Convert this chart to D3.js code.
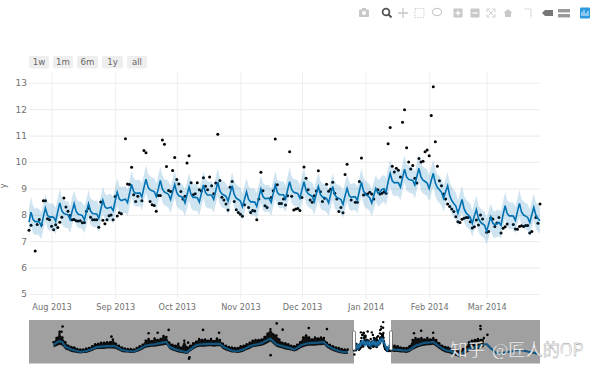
<!DOCTYPE html>
<html>
<head>
<meta charset="utf-8">
<script src="https://cdn.jsdelivr.net/npm/d3@7/dist/d3.min.js"></script>
<style>
  html, body { margin: 0; padding: 0; background: #fff; }
  svg { display: block; }
  text { font-family: "DejaVu Sans", sans-serif; }
</style>
</head>
<body>
<div class="content"></div>
<script>
// daily values, first day is 2013-07-21
var firstDay = '2013-07-21';
var yhat = [7.72,
  8.10,7.82,7.74,7.74,7.73,7.58,7.93, 8.25,7.98,7.91,7.92,7.91,7.76,8.12, 8.45,8.15,8.05,8.02,8.00,7.82,8.13,
  8.42,8.12,8.02,8.00,7.97,7.80,8.12, 8.42,8.14,8.05,8.04,8.03,7.87,8.21, 8.55,8.30,8.24,8.27,8.29,8.16,8.53,
  8.85,8.60,8.54,8.57,8.59,8.46,8.81, 9.15,8.88,8.81,8.82,8.83,8.68,9.03, 9.35,9.05,8.94,8.91,8.88,8.69,8.98,
  9.30,8.98,8.86,8.82,8.77,8.58,8.87, 9.15,8.84,8.72,8.69,8.65,8.45,8.76, 9.05,8.76,8.66,8.66,8.65,8.48,8.81,
  9.13,8.84,8.75,8.75,8.74,8.58,8.91, 9.23,8.91,8.79,8.75,8.70,8.51,8.81, 9.10,8.77,8.63,8.58,8.52,8.31,8.59,
  8.87,8.58,8.49,8.49,8.48,8.32,8.66, 8.97,8.69,8.61,8.62,8.62,8.47,8.81, 9.13,8.85,8.76,8.76,8.76,8.60,8.94,
  9.25,8.95,8.85,8.83,8.80,8.63,8.95, 9.25,8.92,8.80,8.75,8.70,8.50,8.79, 9.07,8.77,8.67,8.65,8.62,8.45,8.77,
  9.07,8.76,8.65,8.62,8.58,8.39,8.71, 9.00,8.73,8.66,8.68,8.68,8.55,8.91, 9.23,8.90,8.77,8.72,8.65,8.45,8.72,
  9.00,8.82,8.87,8.96,8.99,8.86,9.25, 9.57,9.29,9.21,9.22,9.21,9.05,9.40, 9.73,9.43,9.34,9.32,9.30,9.13,9.45,
  9.76,9.43,9.31,9.26,9.20,9.00,9.30, 9.57,9.20,9.03,8.95,8.85,8.62,8.87, 9.10,8.73,8.54,8.43,8.33,8.06,8.31,
  8.58,8.23,8.07,7.99,7.91,7.67,7.95, 8.20,7.86,7.72,7.66,7.60,7.38,7.65, 7.92,7.68,7.62,7.66,7.71,7.60,8.00,
  8.34,8.05,7.96,7.96,7.95,7.79,8.12, 8.43,8.11,7.99,7.95,7.90,7.71,8.00, 8.28,7.98,7.86,7.78];
var upper = [8.25,
  8.68,8.32,8.24,8.26,8.22,8.10,8.45, 8.78,8.50,8.42,8.44,8.40,8.27,8.62, 8.98,8.65,8.57,8.50,8.52,8.30,8.65,
  8.92,8.63,8.50,8.52,8.46,8.33,8.60, 8.95,8.62,8.57,8.52,8.55,8.36,8.73, 9.06,8.82,8.72,8.80,8.78,8.68,9.05,
  9.38,9.10,9.05,9.07,9.10,8.95,9.33, 9.66,9.40,9.30,9.34,9.32,9.20,9.52, 9.88,9.55,9.47,9.40,9.40,9.18,9.50,
  9.82,9.50,9.35,9.33,9.28,9.10,9.36, 9.67,9.33,9.24,9.20,9.14,8.97,9.26, 9.57,9.28,9.15,9.18,9.14,9.00,9.30,
  9.66,9.35,9.26,9.24,9.26,9.07,9.43, 9.75,9.42,9.30,9.27,9.20,9.03,9.30, 9.62,9.27,9.15,9.08,9.04,8.80,9.10,
  9.38,9.10,8.98,9.01,8.97,8.84,9.15, 9.50,9.20,9.12,9.13,9.12,9.00,9.32, 9.65,9.35,9.28,9.25,9.28,9.10,9.46,
  9.80,9.47,9.35,9.35,9.30,9.15,9.45, 9.76,9.42,9.32,9.25,9.22,9.00,9.30, 9.60,9.28,9.18,9.16,9.12,8.97,9.27,
  9.58,9.27,9.15,9.14,9.08,8.90,9.22, 9.50,9.25,9.15,9.20,9.18,9.06,9.42, 9.75,9.40,9.30,9.22,9.17,8.95,9.23,
  9.52,9.33,9.37,9.48,9.50,9.37,9.75, 10.08,9.80,9.72,9.72,9.73,9.55,9.92, 10.25,9.93,9.86,9.82,9.82,9.63,9.95,
  10.28,9.93,9.83,9.76,9.72,9.50,9.82, 10.08,9.72,9.53,9.47,9.35,9.14,9.37, 9.62,9.23,9.06,8.93,8.85,8.55,8.83,
  9.10,8.73,8.58,8.49,8.43,8.17,8.47, 8.72,8.36,8.24,8.16,8.12,7.88,8.17, 8.42,8.20,8.12,8.18,8.20,8.12,8.50,
  8.86,8.55,8.48,8.46,8.47,8.29,8.62, 8.95,8.60,8.51,8.45,8.42,8.20,8.52, 8.80,8.48,8.38,8.28];
var lower = [7.20,
  7.60,7.30,7.22,7.26,7.20,7.08,7.42, 7.75,7.47,7.40,7.40,7.42,7.25,7.62, 7.95,7.63,7.55,7.50,7.50,7.30,7.62,
  7.90,7.62,7.50,7.50,7.45,7.30,7.60, 7.92,7.62,7.55,7.52,7.53,7.35,7.70, 8.05,7.80,7.73,7.76,7.78,7.66,8.03,
  8.33,8.10,8.02,8.07,8.08,7.95,8.30, 8.65,8.38,8.30,8.30,8.33,8.17,8.52, 8.83,8.55,8.44,8.40,8.38,8.18,8.47,
  8.80,8.47,8.35,8.32,8.26,8.08,8.36, 8.65,8.33,8.22,8.18,8.14,7.94,8.25, 8.53,8.26,8.15,8.15,8.14,7.98,8.30,
  8.62,8.33,8.25,8.24,8.23,8.08,8.40, 8.72,8.40,8.28,8.25,8.20,8.00,8.30, 8.60,8.26,8.12,8.08,8.02,7.80,8.08,
  8.36,8.08,7.98,7.98,7.97,7.82,8.15, 8.46,8.18,8.10,8.12,8.10,7.96,8.30, 8.62,8.35,8.25,8.25,8.26,8.10,8.42,
  8.75,8.45,8.34,8.33,8.30,8.12,8.44, 8.74,8.42,8.30,8.25,8.20,8.00,8.28, 8.56,8.26,8.16,8.15,8.10,7.95,8.26,
  8.56,8.25,8.15,8.12,8.07,7.88,8.20, 8.50,8.22,8.15,8.17,8.18,8.04,8.40, 8.72,8.40,8.26,8.22,8.14,7.95,8.20,
  8.50,8.31,8.36,8.46,8.48,8.35,8.74, 9.06,8.78,8.70,8.72,8.70,8.55,8.90, 9.22,8.92,8.84,8.82,8.80,8.62,8.94,
  9.25,8.92,8.80,8.76,8.70,8.50,8.78, 9.06,8.70,8.52,8.45,8.34,8.12,8.36, 8.60,8.22,8.04,7.92,7.83,7.56,7.80,
  8.08,7.72,7.56,7.49,7.40,7.17,7.45, 7.70,7.36,7.22,7.16,7.09,6.88,7.15, 7.42,7.17,7.12,7.15,7.20,7.10,7.50,
  7.84,7.55,7.45,7.46,7.44,7.29,7.62, 7.92,7.60,7.49,7.45,7.40,7.20,7.50, 7.78,7.47,7.36,7.27];
var actual = [7.41,7.60,null,6.63,7.63,7.82,7.62,8.53,8.53,7.85,7.81,7.57,7.43,7.62,7.52,7.72,7.91,8.64,8.29,8.13,
  7.97,7.81,7.82,7.77,7.76,7.77,7.70,7.71,8.13,8.25,7.91,7.81,7.81,7.81,7.53,8.48,7.79,7.66,7.81,7.96,
  7.99,7.81,8.69,7.95,8.08,8.04,null,10.88,9.17,9.15,9.80,8.76,8.50,8.70,null,8.53,10.43,10.35,null,8.50,
  8.38,8.35,8.13,8.73,8.73,10.83,10.67,9.83,8.92,8.88,9.68,10.17,9.34,9.17,8.88,8.60,8.70,9.96,10.24,9.21,
  8.76,8.80,9.21,8.95,8.90,9.40,9.08,8.95,9.43,9.10,8.80,9.20,11.05,9.30,8.66,8.56,8.41,8.18,9.04,9.26,
  8.50,8.19,8.09,8.02,7.94,8.38,null,8.28,8.09,8.16,8.14,7.81,8.60,9.61,8.91,8.34,8.28,null,8.65,8.91,
  10.87,9.14,8.43,8.43,8.60,8.37,8.72,10.39,8.70,8.18,8.22,8.24,8.16,8.65,9.81,9.38,8.95,8.56,8.47,8.72,
  8.90,9.67,8.87,8.50,8.63,9.16,8.89,8.97,9.23,8.82,8.60,8.12,8.28,8.08,9.53,9.91,null,8.56,null,8.47,
  8.47,9.26,10.15,8.75,8.79,8.79,8.85,8.79,8.60,null,8.95,8.79,8.82,8.87,8.82,10.69,11.31,9.84,9.62,9.76,
  9.69,9.43,11.50,11.98,10.54,10.00,9.73,9.87,9.38,9.20,10.13,10.00,10.03,10.39,10.45,10.24,11.76,12.85,10.77,9.84,
  9.29,9.10,8.79,8.60,8.41,8.31,8.22,8.12,7.93,7.74,7.71,7.83,7.87,7.90,7.90,7.74,7.50,7.55,7.80,7.61,
  7.99,7.84,null,7.34,7.37,7.88,7.84,7.56,7.69,7.90,7.31,7.49,7.55,7.65,null,null,7.63,7.46,7.45,7.56,
  7.58,7.56,7.59,7.59,7.31,7.37,null,7.90,7.68,8.41];

// range slider overview, one value every 20 days on either side of the window
var overviewBeforeStart = '2008-01-07';
var overviewLineBefore = [8.46,8.9,9.2,9.0,8.1,7.9,7.55,7.45,7.3,7.12,7.2,7.3,7.5,7.7,7.95,8.1,8.15,8.2,8.25,8.25,
  8.3,8.15,7.85,7.5,7.4,7.3,7.25,7.2,7.45,7.7,8.05,8.35,8.45,8.55,8.6,8.7,8.8,8.95,9.05,8.1,
  7.85,7.6,7.45,7.3,7.15,7.1,7.6,8.0,8.4,8.55,8.6,8.62,8.65,8.65,8.65,8.65,8.65,8.2,7.85,7.6,
  7.4,7.3,7.25,7.45,7.6,7.9,8.2,8.4,8.55,8.65,8.8,9.1,9.4,9.65,9.1,8.6,8.4,8.25,8.08,7.95,
  7.8,7.6,7.9,8.3,8.55,8.7,8.8,8.85,8.85,8.9,8.95,9.0,8.4,8.05,7.75,7.55,7.3,7.15,7.1,7.1];
var overviewHighBefore = [9.0,9.8,10.6,9.9,9.0,8.3,8.1,8.0,7.7,7.6,7.6,7.8,7.9,8.2,8.6,8.7,8.9,8.9,9.0,9.0,
  9.5,8.7,8.3,8.0,7.8,7.7,7.7,7.6,7.9,8.2,8.5,9.3,9.6,9.2,9.7,9.4,9.6,10.2,10.0,8.9,
  8.5,8.3,8.7,7.9,9.3,8.0,8.3,8.8,9.1,9.6,9.4,9.5,9.3,9.6,9.2,9.7,9.4,8.7,8.3,8.1,
  8.0,7.9,7.9,8.2,8.3,8.6,8.9,9.3,9.4,9.4,9.5,10.0,10.6,11.5,10.5,10.3,9.5,8.9,8.8,8.6,
  8.3,8.2,8.5,9.0,9.9,10.3,9.9,9.5,9.9,9.7,9.9,9.8,8.9,8.5,8.2,8.0,7.9,7.7,7.6,7.6];
var overviewLowBefore = [8.0,8.2,8.5,8.3,7.6,7.4,7.1,7.0,6.9,6.8,6.9,6.9,7.1,7.3,7.6,7.7,7.7,7.7,7.8,7.8,
  7.8,7.7,7.4,7.1,7.0,7.0,6.9,6.9,7.1,7.3,7.6,7.9,8.0,8.1,8.1,8.2,8.3,8.4,8.5,7.7,
  7.4,7.2,7.0,6.9,6.8,6.7,7.2,7.6,7.9,8.1,8.1,8.1,8.2,8.2,8.1,8.2,8.2,7.7,7.4,7.2,
  7.0,7.0,6.9,7.0,7.2,7.5,7.7,8.0,8.1,8.2,8.3,8.5,8.8,9.1,8.6,8.1,7.9,7.8,7.6,7.5,
  7.4,7.2,7.4,7.8,8.0,8.2,8.3,8.3,8.3,8.4,8.4,8.5,7.9,7.6,7.3,7.1,6.9,6.8,6.7,6.7];
var overviewAfterStart = '2014-04-01';
var overviewLineAfter = [7.65,7.55,7.5,7.45,7.4,7.35,7.5,7.9,8.3,8.5,8.7,8.85,8.9,8.95,9.05,8.6,8.2,7.8,7.5,7.35,
  7.2,7.0,6.8,6.55,7.0,7.4,7.7,7.9,8.0,8.1,8.35,8.6,8.6,8.0,7.5,7.0,6.75,6.85,7.0,7.1,
  7.2,7.3,7.45,7.5,7.4,7.3,7.15,7.05,6.95,6.8];
var overviewHighAfter = [8.5,8.3,8.2,8.0,7.9,7.9,8.2,9.4,9.8,9.6,9.8,9.5,9.8,9.5,9.8,9.4,8.8,8.3,8.1,8.0,
  7.8,7.6,7.5,7.5,7.7,8.1,9.0,9.3,9.4,9.6,9.4,9.8];
var overviewLowAfter = [7.2,7.1,7.1,7.0,7.0,6.9,7.1,7.5,7.8,8.0,8.2,8.3,8.4,8.4,8.5,8.1,7.7,7.3,7.0,6.9,
  6.7,6.5,6.3,6.1,6.5,6.9,7.2,7.4,7.5,7.6,7.9,8.1];
var outlierDates = ['2008-02-17','2008-03-01','2008-03-08','2009-01-31','2009-10-08','2009-12-08','2010-02-20','2010-07-01',
  '2010-07-07','2010-07-10','2010-10-09','2011-01-25','2012-01-07','2012-02-17','2012-03-28','2012-09-20','2013-01-20',
  '2014-08-29','2014-10-16','2015-01-05','2015-11-19','2015-11-20','2016-01-05'];
var outlierValues = [11,11,12,10.05,10.7,10.8,11.35,8.9,5.8,6.1,11.35,10.8,6.5,12.6,11.4,11.7,11.5,10.7,11.2,10.8,12.1,11.5,10.4];

var monthTicks = ['2013-08-01','2013-09-01','2013-10-01','2013-11-01','2013-12-01','2014-01-01','2014-02-01','2014-03-01'];
var yTicks = [5,6,7,8,9,10,11,12,13];
var rangeButtons = ['1w','1m','6m','1y','all'];

var parseDay = d3.utcParse('%Y-%m-%d');
var days = yhat.map(function (d, i) { return d3.utcDay.offset(parseDay(firstDay), i); });

var svg = d3.select('.content').append('svg').attr('width', 600).attr('height', 375);

var plotLeft = 29, plotRight = 540, plotTop = 73, plotBottom = 299;
var x = d3.scaleUtc().domain([days[0], days[days.length - 1]]).range([plotLeft, plotRight]);
var y = d3.scaleLinear().domain([4.81, 13.37]).range([plotBottom, plotTop]);

// grid and axes
var axisX = svg.append('g').attr('transform', 'translate(0,' + plotBottom + ')')
  .call(d3.axisBottom(x).tickValues(monthTicks.map(parseDay)).tickFormat(d3.utcFormat('%b %Y'))
    .tickSize(plotTop - plotBottom).tickPadding(0));
axisX.select('.domain').remove();
axisX.selectAll('line').attr('stroke', '#eee');
axisX.selectAll('text').attr('y', 10.5).attr('dy', 0).attr('fill', '#717171').style('font-size', '8.2px').style('font-family', '"DejaVu Sans"');

var axisY = svg.append('g').attr('transform', 'translate(' + plotLeft + ',0)')
  .call(d3.axisLeft(y).tickValues(yTicks).tickSize(plotLeft - plotRight).tickPadding(2));
axisY.select('.domain').remove();
axisY.selectAll('line').attr('stroke', '#eee').attr('stroke-width', 1.2);
axisY.selectAll('text').attr('fill', '#717171').style('font-size', '9px').style('font-family', '"DejaVu Sans"');

svg.append('text').attr('transform', 'translate(6,186) rotate(-90)')
  .attr('text-anchor', 'middle').attr('fill', '#666').style('font-size', '8px').text('y');

// main plot: markers go under the band, the line on top
var rows = days.map(function (d, i) {
  return { day: d, yhat: yhat[i], upper: upper[i], lower: lower[i], actual: actual[i] };
});

svg.append('g').selectAll('circle')
  .data(rows.filter(function (d) { return d.actual != null; }))
  .enter().append('circle')
  .attr('cx', function (d) { return x(d.day); })
  .attr('cy', function (d) { return y(d.actual); })
  .attr('r', 1.5)
  .attr('fill', '#000');

var band = d3.area()
  .x(function (d) { return x(d.day); })
  .y0(function (d) { return y(d.lower); })
  .y1(function (d) { return y(d.upper); });

svg.append('path').datum(rows)
  .attr('d', band)
  .attr('fill', '#0072B2')
  .attr('fill-opacity', 0.19);

var line = d3.line()
  .x(function (d) { return x(d.day); })
  .y(function (d) { return y(d.yhat); });

svg.append('path').datum(rows)
  .attr('d', line)
  .attr('fill', 'none')
  .attr('stroke', '#0072B2')
  .attr('stroke-width', 1.6);

// range slider
var sliderTop = 320, sliderBottom = 363.5;
var windowLeft = 354, windowRight = 391;
var pxPerDay = (windowRight - windowLeft) / (days.length - 1);
var sliderX = d3.scaleUtc()
  .domain([d3.utcDay.offset(days[0], -Math.round((windowLeft - plotLeft) / pxPerDay)),
           d3.utcDay.offset(days[days.length - 1], Math.round((plotRight - windowRight) / pxPerDay))])
  .range([plotLeft, plotRight]);
var sliderY = d3.scaleLinear().domain([4.9, 13.25]).range([sliderBottom, sliderTop]);

var slider = svg.append('g');
slider.append('rect').attr('x', plotLeft).attr('y', sliderTop)
  .attr('width', windowLeft - plotLeft).attr('height', sliderBottom - sliderTop).attr('fill', '#a0a0a0');
slider.append('rect').attr('x', windowRight).attr('y', sliderTop)
  .attr('width', plotRight - windowRight).attr('height', sliderBottom - sliderTop).attr('fill', '#a0a0a0');

function drawOverview(start, high, low, values) {
  var day0 = parseDay(start);
  var dayAt = function (i) { return d3.utcDay.offset(day0, i * 20); };
  var cloud = high.map(function (d, i) { return { day: dayAt(i), high: d, low: low[i] }; });
  slider.append('path').datum(cloud)
    .attr('d', d3.area()
      .x(function (d) { return sliderX(d.day); })
      .y0(function (d) { return sliderY(d.low); })
      .y1(function (d) { return sliderY(d.high); }))
    .attr('fill', '#111');
  slider.append('g').selectAll('circle').data(cloud).enter().append('circle')
    .attr('cx', function (d) { return sliderX(d.day); })
    .attr('cy', function (d) { return sliderY(d.high); })
    .attr('r', 1.2).attr('fill', '#000');
  slider.append('path').datum(values)
    .attr('d', d3.line()
      .x(function (d, i) { return sliderX(dayAt(i)); })
      .y(function (d) { return sliderY(d); }))
    .attr('fill', 'none').attr('stroke', '#12557f').attr('stroke-width', 2.2);
}
drawOverview(overviewBeforeStart, overviewHighBefore, overviewLowBefore, overviewLineBefore);
drawOverview(overviewAfterStart, overviewHighAfter, overviewLowAfter, overviewLineAfter);

slider.append('g').selectAll('circle')
  .data(rows.filter(function (d) { return d.actual != null; }))
  .enter().append('circle')
  .attr('cx', function (d) { return sliderX(d.day); })
  .attr('cy', function (d) { return sliderY(d.actual); })
  .attr('r', 1.2).attr('fill', '#000');

slider.append('path').datum(rows)
  .attr('d', d3.area()
    .x(function (d) { return sliderX(d.day); })
    .y0(function (d) { return sliderY(d.lower); })
    .y1(function (d) { return sliderY(d.upper); }))
  .attr('fill', '#1c7fc0').attr('fill-opacity', 0.85);

slider.append('g').selectAll('circle')
  .data(outlierDates)
  .enter().append('circle')
  .attr('cx', function (d) { return sliderX(parseDay(d)); })
  .attr('cy', function (d, i) { return sliderY(outlierValues[i]); })
  .attr('r', 1.3).attr('fill', '#000');

[windowLeft, windowRight].forEach(function (h) {
  slider.append('rect').attr('x', h - 1.5).attr('y', 331).attr('width', 3).attr('height', 19)
    .attr('rx', 1).attr('fill', '#fff').attr('stroke', '#555').attr('stroke-width', 0.7);
});

// range selector buttons
var buttonWidths = [20, 20, 21, 21, 20];
var buttonX = 29;
rangeButtons.forEach(function (label, i) {
  var g = svg.append('g').attr('transform', 'translate(' + buttonX + ',56)');
  g.append('rect').attr('width', buttonWidths[i]).attr('height', 12.5).attr('rx', 2).attr('fill', '#eee');
  g.append('text').attr('x', buttonWidths[i] / 2).attr('y', 9.4).attr('text-anchor', 'middle')
    .attr('fill', '#666').style('font-size', '8.6px').text(label);
  buttonX += buttonWidths[i] + 4;
});

// modebar icons
var bar = svg.append('g').attr('fill', '#c8c8c8').attr('stroke', 'none');
bar.append('rect').attr('x', 359).attr('y', 9.5).attr('width', 10).attr('height', 7.5).attr('rx', 1);
bar.append('rect').attr('x', 362).attr('y', 8).attr('width', 4).attr('height', 2);
bar.append('circle').attr('cx', 364).attr('cy', 13).attr('r', 2).attr('fill', '#fff');
bar.append('circle').attr('cx', 386).attr('cy', 12).attr('r', 3.4).attr('fill', 'none').attr('stroke', '#555').attr('stroke-width', 1.8);
bar.append('line').attr('x1', 388.5).attr('y1', 14.5).attr('x2', 391.5).attr('y2', 17.5).attr('stroke', '#555').attr('stroke-width', 2);
bar.append('path').attr('d', 'M398 13H408M403 8V18').attr('stroke', '#c8c8c8').attr('stroke-width', 1.3);
bar.append('rect').attr('x', 415).attr('y', 8.5).attr('width', 9).attr('height', 9).attr('fill', 'none').attr('stroke', '#c8c8c8').attr('stroke-dasharray', '1.3 1.3');
bar.append('ellipse').attr('cx', 437).attr('cy', 12).attr('rx', 4.6).attr('ry', 3.6).attr('fill', 'none').attr('stroke', '#c8c8c8').attr('stroke-width', 1.1);
bar.append('rect').attr('x', 453.5).attr('y', 8.5).attr('width', 9).attr('height', 9).attr('rx', 1);
bar.append('path').attr('d', 'M455.5 13H460.5M458 10.5V15.5').attr('stroke', '#fff').attr('stroke-width', 1.4);
bar.append('rect').attr('x', 470.5).attr('y', 8.5).attr('width', 9).attr('height', 9).attr('rx', 1);
bar.append('path').attr('d', 'M472.5 13H477.5').attr('stroke', '#fff').attr('stroke-width', 1.4);
bar.append('path').attr('d', 'M487 12V9H490M492 9H495V12M495 14V17H492M490 17H487V14M488.5 10.5L493.5 15.5M493.5 10.5L488.5 15.5').attr('fill', 'none').attr('stroke', '#ccc').attr('stroke-width', 0.9);
bar.append('path').attr('d', 'M503.5 13L508 9L512.5 13H511V17H505V13Z');
bar.append('path').attr('d', 'M525 9H531V18').attr('fill', 'none').attr('stroke', '#bbb').attr('stroke-width', 1.1).attr('stroke-dasharray', '1.2 1.2');
bar.append('path').attr('d', 'M542 13L545 10H553V16H545Z').attr('fill', '#777');
bar.append('rect').attr('x', 558).attr('y', 9).attr('width', 12).attr('height', 3.4).attr('fill', '#999');
bar.append('rect').attr('x', 558).attr('y', 14).attr('width', 12).attr('height', 3.4).attr('fill', '#999');
bar.append('rect').attr('x', 580).attr('y', 7.5).attr('width', 10).attr('height', 11).attr('rx', 1).attr('fill', '#2f9ae0');
bar.append('path').attr('d', 'M582 16V12M584 16V10M586 16V13M588 16V11').attr('stroke', '#fff').attr('stroke-width', 0.9);

// watermark
var mark = svg.append('g').attr('fill', '#fff').attr('stroke', '#8a8a8a').attr('stroke-width', 0.35);
mark.append('text').attr('x', 450).attr('y', 356).style('font-family', '"Noto Sans CJK SC"').style('font-size', '17.5px').text('知乎');
mark.append('text').attr('x', 492).attr('y', 356).style('font-family', '"Noto Sans CJK SC"').style('font-size', '17.2px').text('@匠人的OP');
</script>
</body>
</html>
